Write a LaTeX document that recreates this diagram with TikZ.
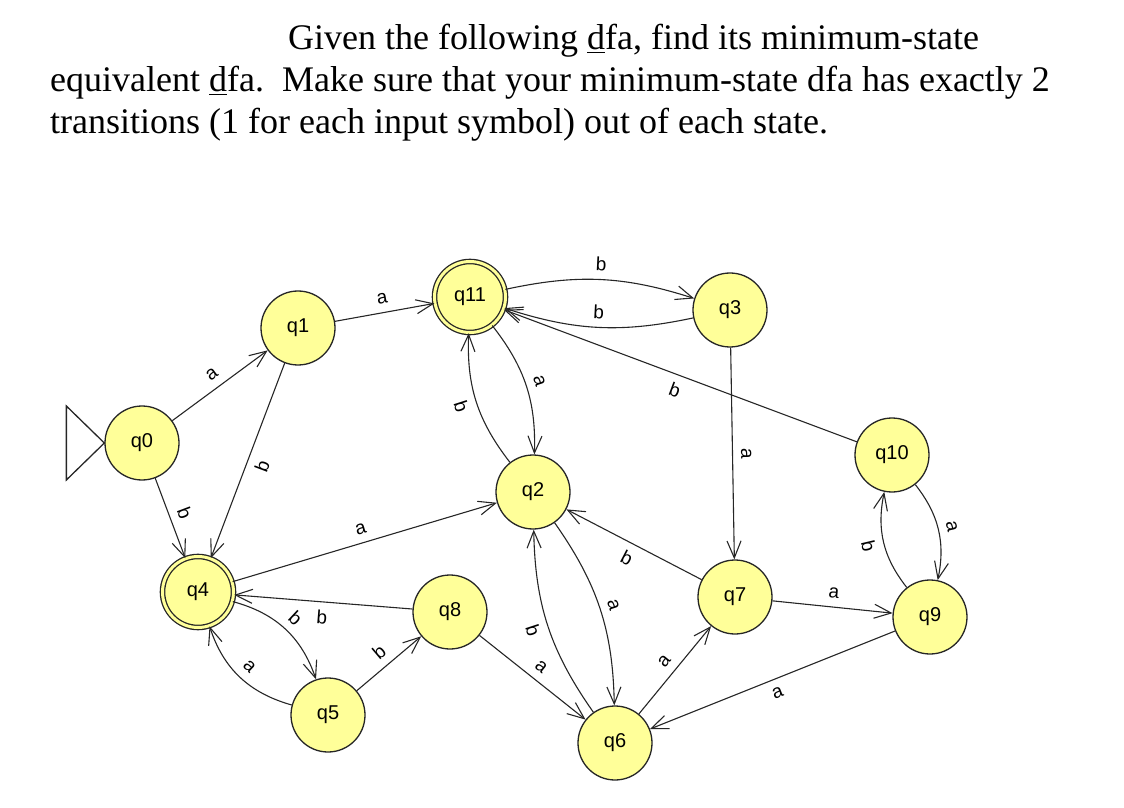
\documentclass[tikz,border=0pt]{standalone}
\usepackage{fontspec}
\setmainfont{Liberation Serif}
\newfontfamily\statefont{Liberation Sans}
\usetikzlibrary{arrows.meta}

\definecolor{statefill}{RGB}{255,255,153}
\tikzset{
  state/.style={circle, draw=black!85, line width=1.3pt, fill=statefill,
    minimum size=74pt, inner sep=0pt, font=\fontsize{20}{20}\selectfont\statefont},
  final/.style={state, minimum size=71pt, double=statefill, double distance=3pt},
  trans/.style={->, line width=1.1pt, black!85},
  lbl/.style={auto, sloped, inner sep=8pt, black, font=\fontsize{19}{19}\selectfont\statefont},
  title/.style={anchor=base west, inner sep=0pt, font=\fontsize{36}{42}\selectfont}
}

\begin{document}
\begin{tikzpicture}[x=1pt, y=1pt, >={Straight Barb[length=17pt,width=14pt]}]
  \useasboundingbox (0,0) rectangle (1124,807);
  % question text
  \node [title] (t1) at (288,757) {Given the following \underline{d}fa, find its minimum-state};
  \node [title] (t2) at (50,715) {equivalent \underline{d}fa.\ \ Make sure that your minimum-state dfa has exactly 2};
  \node [title] (t3) at (50,673) {transitions (1 for each input symbol) out of each state.};
  % states
  \node [state] (q0) at (142,364) {q0};
  \node [state] (q1) at (298,479) {q1};
  \node [final] (q11) at (470,510) {q11};
  \node [state] (q3) at (730,497) {q3};
  \node [state] (q2) at (533,315) {q2};
  \node [state] (q10) at (892,352) {q10};
  \node [final] (q4) at (198,215) {q4};
  \node [state] (q8) at (450,195) {q8};
  \node [state] (q7) at (735,210) {q7};
  \node [state] (q9) at (930,190) {q9};
  \node [state] (q5) at (328,92) {q5};
  \node [state] (q6) at (615,64) {q6};
  % start marker
  \draw [line width=1.3pt, black!85] (q0.west) -- ++(-38,37) -- ++(0,-74) -- cycle;
  % transitions
  \draw [trans] (q0) -- node [lbl] {a} (q1);
  \draw [trans] (q0) -- node [lbl] {b} (q4);
  \draw [trans] (q1) -- node [lbl] {a} (q11);
  \draw [trans] (q1) -- node [lbl, swap] {b} (q4);
  \draw [trans] (q11) to [bend left=15] node [lbl] {b} (q3);
  \draw [trans] (q3) to [bend left=15] node [lbl] {b} (q11);
  \draw [trans] (q11) to [bend left=20] node [lbl] {a} (q2);
  \draw [trans] (q2) to [bend left=20] node [lbl, swap] {b} (q11);
  \draw [trans] (q10) -- node [lbl, swap] {b} (q11);
  \draw [trans] (q3) -- node [lbl] {a} (q7);
  \draw [trans] (q4) -- node [lbl] {a} (q2);
  \draw [trans] (q8) -- node [lbl, swap] {b} (q4);
  \draw [trans] (q4) to [bend left=28] node [lbl] {b} (q5);
  \draw [trans] (q5) to [bend left=28] node [lbl] {a} (q4);
  \draw [trans] (q5) -- node [lbl] {b} (q8);
  \draw [trans] (q8) -- node [lbl] {a} (q6);
  \draw [trans] (q2) to [bend left=17] node [lbl] {a} (q6);
  \draw [trans] (q6) to [bend left=17] node [lbl, swap] {b} (q2);
  \draw [trans] (q7) -- node [lbl, swap] {b} (q2);
  \draw [trans] (q6) -- node [lbl] {a} (q7);
  \draw [trans] (q7) -- node [lbl] {a} (q9);
  \draw [trans] (q9) -- node [lbl, swap] {a} (q6);
  \draw [trans] (q10) to [bend left=25] node [lbl] {a} (q9);
  \draw [trans] (q9) to [bend left=25] node [lbl, swap] {b} (q10);
\end{tikzpicture}
\end{document}
